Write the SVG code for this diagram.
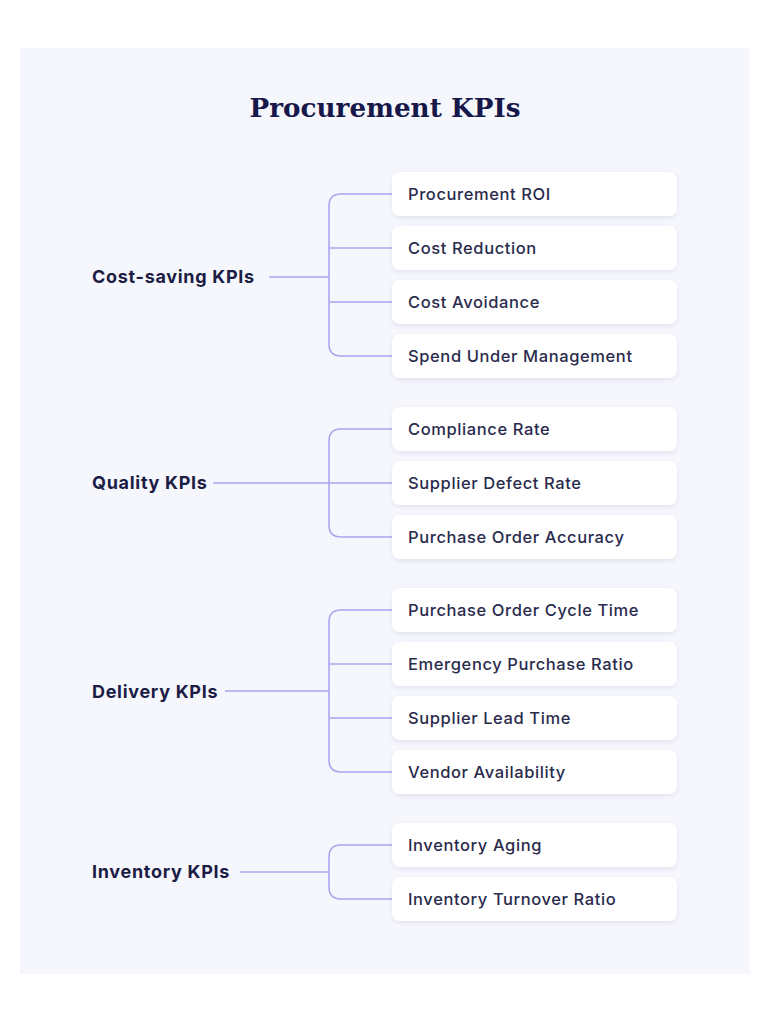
<svg xmlns="http://www.w3.org/2000/svg" width="768" height="1024" viewBox="0 0 768 1024">
<style>
.title{font-family:"DejaVu Serif","Liberation Serif",serif;font-weight:700;font-size:26px;fill:#16184a;text-anchor:middle}
.grp{font-family:Inter,"Noto Sans",sans-serif;font-weight:700;font-size:18px;letter-spacing:0.7px;fill:#1c1d45}
.item{font-family:Inter,"Noto Sans",sans-serif;font-weight:500;font-size:16.5px;letter-spacing:0.6px;fill:#2a2b4d}
.box{fill:#ffffff;filter:url(#sh)}
.con{fill:none;stroke:#aaa7ee;stroke-width:1.6}
</style>
<defs>
<filter id="sh" x="-10%" y="-20%" width="120%" height="150%">
<feDropShadow dx="0" dy="2" stdDeviation="2" flood-color="#5a5a9a" flood-opacity="0.12"/>
</filter>
</defs>
<rect width="768" height="1024" fill="#ffffff"/>
<rect x="20" y="48" width="730" height="926" fill="#f6f6fd"/>
<text class="title" x="385" y="117" textLength="271" lengthAdjust="spacingAndGlyphs">Procurement KPIs</text>

<g id="connectors">
<path class="con" d="M269 277H329M392 194H341Q329 194 329 206V344Q329 356 341 356H392M329 248H392M329 302H392"/>
<path class="con" d="M213 483H392M392 429H341Q329 429 329 441V525Q329 537 341 537H392"/>
<path class="con" d="M225 691H329M392 610H341Q329 610 329 622V760Q329 772 341 772H392M329 664H392M329 718H392"/>
<path class="con" d="M240 872H329M392 845H341Q329 845 329 857V887Q329 899 341 899H392"/>
</g>

<g id="cost-saving"><text class="grp" x="92" y="283">Cost-saving KPIs</text></g>
<g id="quality"><text class="grp" x="92" y="489">Quality KPIs</text></g>
<g id="delivery"><text class="grp" x="92" y="698">Delivery KPIs</text></g>
<g id="inventory"><text class="grp" x="92" y="878">Inventory KPIs</text></g>

<g id="procurement-roi"><rect class="box" x="392" y="172" width="285" height="44" rx="8"/><text class="item" x="408" y="200">Procurement ROI</text></g>
<g id="cost-reduction"><rect class="box" x="392" y="226" width="285" height="44" rx="8"/><text class="item" x="408" y="254">Cost Reduction</text></g>
<g id="cost-avoidance"><rect class="box" x="392" y="280" width="285" height="44" rx="8"/><text class="item" x="408" y="308">Cost Avoidance</text></g>
<g id="spend-under-management"><rect class="box" x="392" y="334" width="285" height="44" rx="8"/><text class="item" x="408" y="362">Spend Under Management</text></g>

<g id="compliance-rate"><rect class="box" x="392" y="407" width="285" height="44" rx="8"/><text class="item" x="408" y="435">Compliance Rate</text></g>
<g id="supplier-defect-rate"><rect class="box" x="392" y="461" width="285" height="44" rx="8"/><text class="item" x="408" y="489">Supplier Defect Rate</text></g>
<g id="purchase-order-accuracy"><rect class="box" x="392" y="515" width="285" height="44" rx="8"/><text class="item" x="408" y="543">Purchase Order Accuracy</text></g>

<g id="po-cycle-time"><rect class="box" x="392" y="588" width="285" height="44" rx="8"/><text class="item" x="408" y="616">Purchase Order Cycle Time</text></g>
<g id="emergency-purchase-ratio"><rect class="box" x="392" y="642" width="285" height="44" rx="8"/><text class="item" x="408" y="670">Emergency Purchase Ratio</text></g>
<g id="supplier-lead-time"><rect class="box" x="392" y="696" width="285" height="44" rx="8"/><text class="item" x="408" y="724">Supplier Lead Time</text></g>
<g id="vendor-availability"><rect class="box" x="392" y="750" width="285" height="44" rx="8"/><text class="item" x="408" y="778">Vendor Availability</text></g>

<g id="inventory-aging"><rect class="box" x="392" y="823" width="285" height="44" rx="8"/><text class="item" x="408" y="851">Inventory Aging</text></g>
<g id="inventory-turnover-ratio"><rect class="box" x="392" y="877" width="285" height="44" rx="8"/><text class="item" x="408" y="905">Inventory Turnover Ratio</text></g>
</svg>
